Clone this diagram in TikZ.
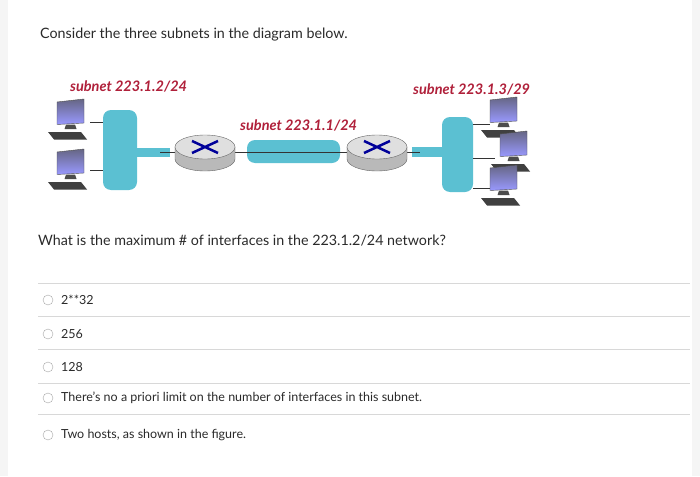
\documentclass[tikz,border=0pt]{standalone}
\usepackage{fontspec}
\setmainfont{Lato}
\definecolor{lbl}{HTML}{B0203A}
\definecolor{blob}{HTML}{5BC0D2}
\definecolor{txt}{HTML}{2A2A2A}
\definecolor{sep}{HTML}{D8D8D8}
\tikzset{
  lab/.style={text=lbl,font=\bfseries\itshape\fontsize{14.5}{17}\selectfont,anchor=west,inner sep=0},
  body/.style={text=txt,font=\fontsize{14.3}{17}\selectfont,anchor=west,inner sep=0},
  opt/.style={text=txt,font=\fontsize{12.5}{15}\selectfont,anchor=west,inner sep=0},
  radio/.style={circle,draw=gray!70,fill=white,minimum size=10pt,inner sep=0},
  wire/.style={draw=black!80,line width=0.8pt},
  sepl/.style={draw=sep,line width=0.8pt},
}
\newcommand{\pc}[2]{%
 \begin{scope}[shift={(#1,#2)},scale=1.5]
  \shade[top color=blue!20!black!60,bottom color=blue!40!white,draw=black!70] (-10,-12) -- (8,-14) -- (8,2) -- (-10,3) -- cycle;
  \fill[black!70] (-4,3) -- (2,3) -- (3,6) -- (-5,6) -- cycle;
  \fill[black!75] (-16,8) -- (6,8) -- (10,13) -- (-12,13) -- cycle;
 \end{scope}}
\newcommand{\router}[2]{%
 \begin{scope}[shift={(#1,#2)}]
  \fill[gray!55,draw=black!60] (-30,-5) -- (-30,7) arc[start angle=180,end angle=0,x radius=30,y radius=12] -- (30,-5) -- cycle;
  \fill[gray!25,draw=black!60] (0,-5) ellipse[x radius=30,y radius=12];
  \draw[blue!60!black,line width=2.5pt] (-13,-11) -- (13,1) (-13,1) -- (13,-11);
 \end{scope}}
\begin{document}
\begin{tikzpicture}[x=1pt,y=-1pt]
\useasboundingbox (0,0) rectangle (700,476);
\fill[white] (0,0) rectangle (700,476);
\fill[gray!8] (0,0) rectangle (8,476);
\fill[gray!8] (692,0) rectangle (700,476);
\node[body] (title) at (40,35) {Consider the three subnets in the diagram below.};
% blobs
\fill[blob,rounded corners=8pt] (103,110) rectangle (137,190);
\fill[blob] (130,148) rectangle (170,157);
\fill[blob,rounded corners=8pt] (247,140) rectangle (340,163);
\fill[blob,rounded corners=8pt] (442,117) rectangle (473,192);
\fill[blob] (412,147) rectangle (448,157);
% wires
\draw[wire] (90,122) -- (103,122);
\draw[wire] (90,170) -- (103,170);
\draw[wire] (160,152) -- (180,152);
\draw[wire] (232,152) -- (350,152);
\draw[wire] (404,152) -- (420,152);
\draw[wire] (473,124) -- (490,124);
\draw[wire] (473,158) -- (495,158);
\draw[wire] (473,188) -- (490,188);
\router{205}{152}
\router{377}{152}
\pc{72}{120}
\pc{72}{170}
\pc{505}{118}
\pc{515}{152}
\pc{505}{186}
\node[lab] (l1) at (70,86) {subnet 223.1.2/24};
\node[lab] (l2) at (413,89) {subnet 223.1.3/29};
\node[lab] (l3) at (240,125) {subnet 223.1.1/24};
\node[body] (q) at (38,241) {What is the maximum \# of interfaces in the 223.1.2/24 network?};
\foreach \y in {283,316,349,383,414} {\draw[sepl] (38,\y) -- (690,\y);}
\node[radio] (r1) at (48,300) {}; \node[opt] at (61,300) {2**32};
\node[radio] (r2) at (48,334) {}; \node[opt] at (61,334) {256};
\node[radio] (r3) at (48,367) {}; \node[opt] at (61,367) {128};
\node[radio] (r4) at (48,398) {}; \node[opt] at (61,398) {There's no a priori limit on the number of interfaces in this subnet.};
\node[radio] (r5) at (48,435) {}; \node[opt] at (61,435) {Two hosts, as shown in the figure.};
\end{tikzpicture}
\end{document}
